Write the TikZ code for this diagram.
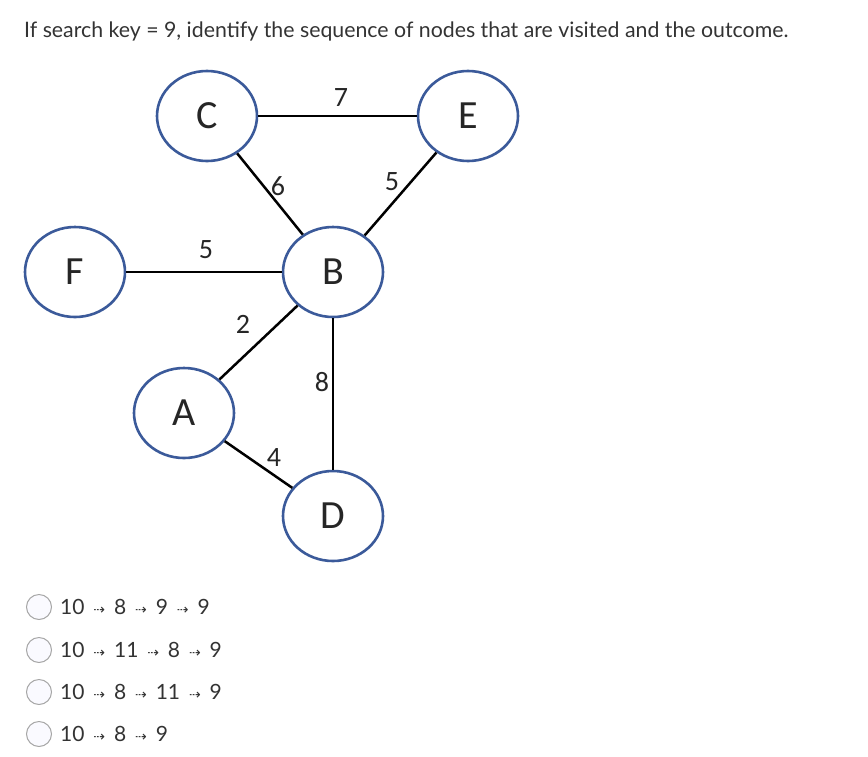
\documentclass[tikz,border=0pt]{standalone}
\usepackage{fontspec}
\setmainfont{Lato}
\newfontfamily\lab{Carlito}
\newfontfamily\djv{DejaVu Sans}
\usetikzlibrary{shapes.geometric}
\definecolor{nodeblue}{HTML}{3B5A9A}
\begin{document}
\begin{tikzpicture}[x=1pt,y=-1pt,
  vx/.style={ellipse,draw=nodeblue,line width=2.6pt,fill=white,minimum width=100pt,minimum height=90pt,font=\lab\fontsize{40}{42}\selectfont,text=black!85},
  ed/.style={line width=2.5pt,black},
  el/.style={font=\lab\fontsize{28}{30}\selectfont,text=black!85},
  radio/.style={circle,draw=gray!70,line width=1pt,fill=blue!2,minimum size=25pt,inner sep=0pt},
  opt/.style={anchor=west,font=\fontsize{21}{24}\selectfont,text=black!80,inner sep=0pt}]
\useasboundingbox (0,0) rectangle (868,756);
\node[anchor=west,font=\fontsize{21.3}{24}\selectfont,text=black!80,inner sep=0pt] (title) at (24,31) {If search key = 9, identify the sequence of nodes that are visited and the outcome.};
\node[vx] (C) at (207,116) {C};
\node[vx] (E) at (468,116) {E};
\node[vx] (F) at (75,272) {F};
\node[vx] (B) at (333,272) {B};
\node[vx] (A) at (184,413) {A};
\node[vx] (D) at (333,516) {D};
\draw[ed] (C) -- (E);
\draw[ed] (C) -- (B);
\draw[ed] (E) -- (B);
\draw[ed] (F.east) -- (B.west);
\draw[ed] (B) -- (A);
\draw[ed] (A) -- (D);
\draw[ed] (B) -- (D);
\node[el] (l7) at (341,98) {7};
\node[el] (l6) at (278,186) {6};
\node[el] (l5a) at (206,250) {5};
\node[el] (l5b) at (392,182) {5};
\node[el] (l2) at (243,324) {2};
\node[el] (l8) at (322,382) {8};
\node[el] (l4) at (274,458) {4};
\def\ar{{\djv\fontsize{14}{14}\selectfont\ \ ⇢\ \ }}
\foreach \y/\t [count=\i] in {607/{10\ar 8\ar 9\ar 9},650/{10\ar 11\ar 8\ar 9},692/{10\ar 8\ar 11\ar 9},734/{10\ar 8\ar 9}}{
  \node[radio] (r\i) at (39,\y) {};
  \node[opt] (o\i) at (60,\y) {\t};
}
\end{tikzpicture}
\end{document}
